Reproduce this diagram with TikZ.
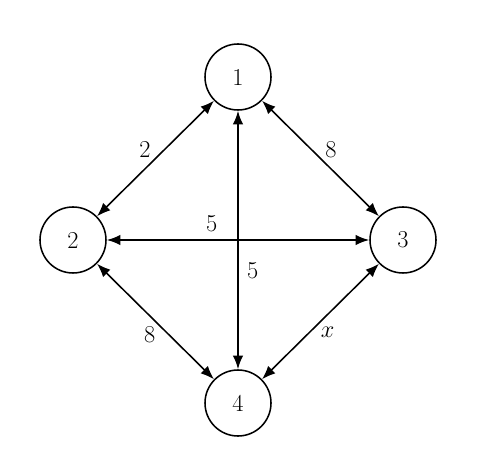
\documentclass[tikz,border=0pt]{standalone}
\usepackage{amsmath,amssymb}
\usetikzlibrary{positioning, arrows.meta}

\begin{document}
\begin{tikzpicture}[
    sommet/.style={circle, draw, line width=1.1pt, minimum size=1.65cm, inner sep=0pt, font=\LARGE},
    arete/.style={{Latex[length=3.4mm,width=2.6mm]}-{Latex[length=3.4mm,width=2.6mm]}, line width=1.1pt},
    poids/.style={font=\LARGE, inner sep=2pt}]

  \useasboundingbox (-5.95,-5.9) rectangle (5.95,6.0);

  % --- sommets ---
  \node[sommet] (s1) at (0,4.075)   {1};
  \node[sommet] (s2) at (-4.125,0)  {2};
  \node[sommet] (s3) at (4.125,0)   {3};
  \node[sommet] (s4) at (0,-4.075)  {4};

  % --- aretes ---
  \draw[arete] (s1) -- node[poids, above left=-2pt and 1pt]  {2} (s2);
  \draw[arete] (s1) -- node[poids, above right=-2pt and 1pt] {8} (s3);
  \draw[arete] (s2) -- node[poids, pos=0.4, above=3pt] {5} (s3);
  \draw[arete] (s1) -- node[poids, pos=0.62, right=4pt] {5} (s4);
  \draw[arete] (s2) -- node[poids, pos=0.54, below left=-2pt and 1pt]  {8} (s4);
  \draw[arete] (s3) -- node[poids, pos=0.54, below right=-2pt and 1pt] {$x$} (s4);
\end{tikzpicture}
\end{document}
